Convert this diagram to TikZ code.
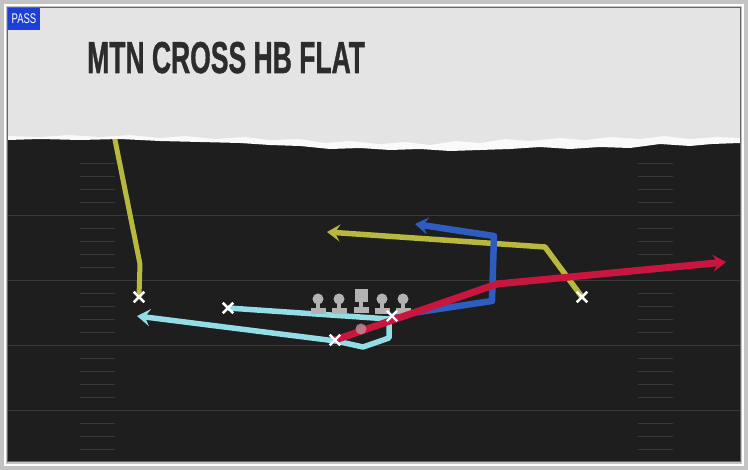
\documentclass[tikz,border=0pt]{standalone}
\usepackage{fontspec}
\setmainfont{Liberation Sans}
\newfontfamily\titlefont[FakeBold=1.2]{Liberation Sans Bold}
\usetikzlibrary{arrows.meta,shapes.misc}
\definecolor{frame}{HTML}{C3C3C3}
\definecolor{field}{HTML}{1D1E1D}
\definecolor{yardline}{HTML}{373937}
\definecolor{paper}{HTML}{E3E4E3}
\definecolor{ink}{HTML}{2C2C2C}
\definecolor{passblue}{HTML}{1D3FD6}
\definecolor{olive}{HTML}{B7B83D}
\definecolor{sky}{HTML}{93DDE6}
\definecolor{royal}{HTML}{2F5CC0}
\definecolor{crimson}{HTML}{C8163F}
\definecolor{lineman}{HTML}{B3B3B3}
\definecolor{ballgray}{HTML}{C0898F}
\begin{document}
\begin{tikzpicture}[x=1pt,y=-1pt,
  route/.style={line width=5.5pt, line join=round, -{Stealth[length=13pt,width=17pt,inset=5pt]}},
  spot/.style={draw=white, cross out, line width=2.4pt, minimum size=8pt, inner sep=0pt}]
\useasboundingbox (0,0) rectangle (748,470);
\fill [frame] (0,0) rectangle (748,470);
\fill [field] (8,8) rectangle (740,461);

% yard lines and hash marks
\foreach \l in {216,281,346,411}
  \draw [yardline, line width=1pt] (8,\l) -- (740,\l);
\foreach \l in {151,216,281,346,411}
  \foreach \h in {13,26,39}{
    \draw [yardline, line width=1pt] (80,\l+\h) -- (115,\l+\h);
    \draw [yardline, line width=1pt] (638,\l+\h) -- (673,\l+\h);
  }
\foreach \l in {151,216,281,346}{
  \draw [yardline, line width=1pt] (80,\l+52) -- (115,\l+52);
  \draw [yardline, line width=1pt] (638,\l+52) -- (673,\l+52);
}

% players
\node [spot] (lwr) at (139,297) {};
\node [spot] (rwr) at (582,297) {};
\node [spot] (slot) at (228,308) {};
\node [spot] (te) at (392,316) {};
\node [spot] (hb) at (335,340) {};
\coordinate (lstem) at (140,264);
\coordinate (ltop) at (113,130);
\coordinate (rbreak) at (545,247);
\coordinate (rend) at (327,232);
\coordinate (bflat) at (492,301);
\coordinate (bup) at (494,236);
\coordinate (bend) at (415,224);
\coordinate (hbreak) at (497,284);
\coordinate (hend) at (726,262);
\coordinate (s1) at (389,319);
\coordinate (s2) at (389,338);
\coordinate (s3) at (363,347);
\coordinate (s4) at (336,341);
\coordinate (send) at (137,316);

% routes
\draw [olive, line width=5pt, line join=round] (lwr.center) -- (lstem) -- (ltop);
\draw [route, olive] (rwr.center) -- (rbreak) -- (rend);
\draw [route, royal, line width=6.5pt] (te.center) -- (bflat) -- (bup) -- (bend);
\draw [route, sky] (slot.center) -- (s1) -- (s2) -- (s3) -- (s4) -- (send);

% line and ball
\foreach \x in {318,339,382,403}{
  \fill [lineman] (\x,299) circle[radius=5.5];
  \fill [lineman] (\x-2,299) rectangle (\x+2,310);
  \fill [lineman] (\x-7.5,308) rectangle (\x+7.5,314);
}
\fill [lineman] (354.5,289.5) rectangle (367.5,302);
\fill [lineman] (359,300) rectangle (363,308);
\fill [lineman] (353.5,307) rectangle (368.5,313);
\draw [route, crimson, line width=7pt] (hb.center) -- (hbreak) -- (hend);
\fill [ballgray, opacity=0.85] (361,329) circle[radius=5.5];
\foreach \n in {lwr,rwr,slot,te,hb}
  \node [spot] at (\n) {};

% torn paper
\fill [white!96!gray] (8,8) -- (740,8) -- (740,143) -- (712,144) -- (690,146) -- (660,144)
  -- (630,148) -- (600,147) -- (570,149) -- (540,147) -- (510,149) -- (480,150) -- (450,151)
  -- (420,149) -- (390,150) -- (360,148) -- (330,149) -- (300,146) -- (270,145) -- (240,143)
  -- (200,142) -- (160,141) -- (120,139) -- (80,140) -- (40,139) -- (8,140) -- cycle;
\fill [paper] (8,8) -- (740,8) -- (740,138) -- (715,137) -- (690,139) -- (665,136) -- (640,139)
  -- (610,137) -- (585,140) -- (560,138) -- (530,141) -- (505,139) -- (480,143) -- (455,141)
  -- (430,145) -- (405,142) -- (380,144) -- (350,141) -- (325,143) -- (300,139) -- (270,140)
  -- (245,137) -- (215,139) -- (185,136) -- (160,138) -- (130,135) -- (100,137) -- (70,135)
  -- (40,137) -- (8,136) -- cycle;

% title and play type
\node [anchor=base west, inner sep=0pt, text=ink] (title) at (87,73)
  {\scalebox{0.593}[1]{\fontsize{44.7}{44.7}\titlefont MTN CROSS HB FLAT}};
\fill [passblue] (8,8) rectangle (40,30);
\node [anchor=base, inner sep=0pt, text=white] (pass) at (24,24)
  {\scalebox{0.68}[1]{\fontsize{14}{14}\selectfont PASS}};

\draw [gray!80!black, line width=1pt] (7.5,7.5) rectangle (740.5,461.5);
\draw [white, line width=1.2pt] (5,5) rectangle (743,465);
\end{tikzpicture}
\end{document}
